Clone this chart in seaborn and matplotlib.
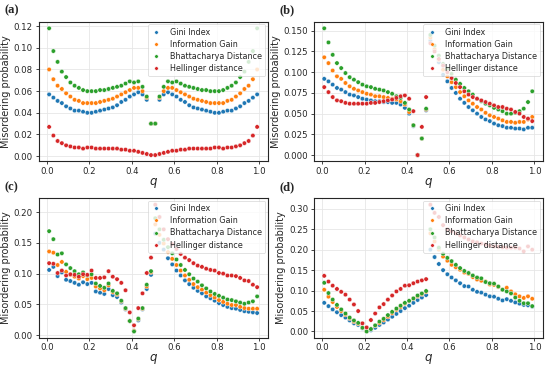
import numpy as np
import pandas as pd
import matplotlib
matplotlib.use("Agg")
import matplotlib.pyplot as plt
import seaborn as sns

# q grid: 0.01, 0.03, ..., 0.99
q = np.round(np.arange(0.01, 1.0, 0.02), 2)

methods = ["Gini Index", "Information Gain", "Bhattacharya Distance", "Hellinger distance"]
panel_labels = ["(a)", "(b)", "(c)", "(d)"]

# panel (a)
a_gini = [.057, .054, .051, .049, .046, .044, .042, .042, .041, .040, .040, .041, .042, .043, .044, .045, .047, .050, .052, .055,
          .057, .059, .057, .052, .030, .030, .052, .057, .059, .057, .055, .052, .050, .047, .045, .044, .043, .042, .041, .040,
          .040, .041, .042, .042, .044, .046, .049, .051, .054, .057]
a_ig = [.080, .071, .065, .062, .058, .055, .052, .051, .049, .049, .049, .049, .050, .051, .052, .053, .055, .057, .059, .061,
        .063, .063, .060, .054, .030, .030, .054, .060, .063, .063, .061, .059, .057, .055, .053, .052, .051, .050, .049, .049,
        .049, .049, .051, .052, .055, .058, .062, .065, .071, .080]
a_bd = [.118, .097, .087, .078, .073, .068, .065, .063, .061, .060, .060, .060, .061, .061, .062, .063, .064, .065, .067, .069,
        .068, .069, .064, .055, .030, .030, .055, .064, .069, .068, .069, .067, .065, .064, .063, .062, .061, .061, .060, .060,
        .060, .061, .063, .065, .068, .073, .078, .087, .097, .118]
a_hd = [.027, .019, .014, .012, .010, .009, .008, .008, .007, .008, .008, .007, .007, .007, .007, .007, .007, .006, .006, .005,
        .005, .004, .003, .002, .001, .001, .002, .003, .004, .005, .005, .006, .006, .007, .007, .007, .007, .007, .007, .008,
        .008, .007, .008, .008, .009, .010, .012, .014, .019, .027]

# panel (b)
b_gini = [.092, .089, .085, .081, .079, .076, .073, .072, .070, .068, .067, .066, .065, .065, .064, .064, .063, .063, .061, .057,
          .050, .035, .000, .020, .054, .138, .126, .112, .097, .089, .081, .075, .068, .063, .058, .054, .050, .046, .043, .041,
          .038, .036, .035, .033, .033, .032, .032, .031, .033, .033]
b_ig = [.118, .111, .102, .095, .092, .087, .083, .080, .078, .076, .074, .073, .071, .071, .070, .069, .068, .067, .065, .061,
        .052, .036, .000, .020, .055, .142, .128, .115, .103, .095, .088, .082, .076, .071, .066, .062, .058, .055, .051, .048,
        .046, .044, .042, .040, .040, .039, .040, .040, .043, .046]
b_bd = [.153, .136, .121, .111, .105, .099, .094, .091, .088, .085, .083, .082, .080, .079, .078, .076, .074, .071, .069, .063,
        .055, .036, .000, .020, .056, .145, .132, .120, .110, .104, .098, .091, .086, .081, .077, .073, .068, .065, .062, .060,
        .057, .055, .053, .050, .050, .051, .053, .056, .064, .077]
b_hd = [.082, .076, .070, .066, .065, .063, .062, .062, .062, .062, .062, .063, .063, .064, .065, .066, .067, .069, .071, .072,
        .068, .053, .000, .034, .070, .135, .125, .116, .108, .100, .093, .087, .082, .077, .073, .070, .068, .066, .064, .062,
        .060, .058, .058, .056, .055, .052, .050, .046, .044, .041]

# panel (c)
c_gini = [.106, .111, .096, .102, .090, .088, .085, .082, .086, .083, .085, .071, .069, .067, .075, .065, .062, .053, .042, .023,
          .007, .024, .042, .075, .098, .165, .150, .139, .125, .115, .105, .097, .089, .083, .077, .072, .068, .063, .060, .056,
          .052, .049, .046, .044, .043, .041, .039, .038, .037, .036]
c_ig = [.136, .134, .114, .119, .103, .098, .095, .092, .096, .091, .093, .079, .076, .073, .081, .070, .066, .055, .043, .023,
        .007, .026, .043, .079, .102, .180, .163, .149, .135, .124, .114, .105, .097, .090, .083, .078, .074, .069, .065, .061,
        .057, .054, .051, .049, .049, .046, .044, .043, .043, .043]
c_bd = [.169, .156, .131, .133, .115, .109, .104, .099, .102, .097, .099, .084, .080, .077, .084, .072, .068, .056, .044, .023,
        .006, .027, .044, .082, .104, .190, .172, .155, .143, .133, .123, .114, .106, .099, .092, .087, .081, .076, .071, .067,
        .064, .061, .058, .057, .055, .053, .051, .053, .055, .063]
c_hd = [.117, .116, .101, .105, .097, .099, .098, .095, .099, .098, .105, .093, .093, .094, .104, .095, .091, .085, .073, .037,
        .016, .044, .068, .101, .126, .212, .192, .172, .156, .148, .140, .132, .126, .122, .117, .113, .111, .108, .106, .105,
        .101, .100, .097, .097, .096, .093, .089, .088, .082, .078]

# panel (d)
d_gini = [.070, .062, .054, .047, .040, .034, .027, .020, .016, .008, .001, .003, .009, .016, .022, .029, .036, .043, .050, .057,
          .063, .070, .077, .083, .089, .200, .182, .165, .150, .140, .132, .125, .118, .111, .110, .102, .097, .095, .090, .086,
          .085, .080, .076, .079, .075, .071, .068, .065, .064, .061]
d_ig = [.102, .085, .072, .060, .050, .041, .032, .024, .019, .009, .001, .006, .014, .021, .028, .036, .045, .053, .060, .068,
        .074, .080, .086, .091, .097, .240, .220, .200, .183, .173, .163, .157, .151, .144, .141, .133, .127, .124, .122, .115,
        .114, .109, .102, .107, .098, .091, .086, .082, .086, .080]
d_bd = [.119, .094, .078, .065, .054, .044, .034, .027, .021, .009, .000, .006, .015, .024, .031, .040, .048, .056, .063, .070,
        .075, .081, .088, .093, .099, .250, .230, .205, .190, .180, .172, .163, .155, .148, .143, .137, .132, .130, .121, .118,
        .117, .110, .102, .098, .093, .083, .075, .069, .069, .062]
d_hd = [.136, .122, .112, .104, .097, .090, .078, .066, .050, .020, .010, .028, .044, .059, .067, .078, .088, .098, .104, .112,
        .113, .118, .122, .125, .128, .310, .290, .280, .260, .250, .245, .240, .235, .230, .225, .220, .218, .215, .213, .210,
        .208, .207, .206, .205, .205, .205, .203, .196, .208, .200]

panels = [
    [a_gini, a_ig, a_bd, a_hd],
    [b_gini, b_ig, b_bd, b_hd],
    [c_gini, c_ig, c_bd, c_hd],
    [d_gini, d_ig, d_bd, d_hd],
]

sns.set_theme(style="whitegrid", rc={
    "axes.edgecolor": "0.15",
    "axes.linewidth": 0.8,
    "grid.color": "0.9",
    "grid.linewidth": 0.6,
    "xtick.bottom": True,
    "ytick.left": True,
    "xtick.major.size": 2.5,
    "ytick.major.size": 2.5,
    "xtick.major.width": 0.6,
    "ytick.major.width": 0.6,
})
plt.rcParams["font.family"] = ["DejaVu Sans"]

fig, axes = plt.subplots(2, 2, figsize=(5.5, 3.66), dpi=100)
fig.subplots_adjust(left=0.07, right=0.987, top=0.94, bottom=0.077, wspace=0.2, hspace=0.265)

palette = sns.color_palette("tab10", 4)

for ax, series, label in zip(axes.flat, panels, panel_labels):
    df = pd.DataFrame({
        "q": np.tile(q, 4),
        "value": np.concatenate(series),
        "method": np.repeat(methods, len(q)),
    })
    sns.scatterplot(data=df, x="q", y="value", hue="method", palette=palette,
                    s=10, linewidth=0.3, edgecolor="white", ax=ax)
    ax.set_xlim(-0.04, 1.04)
    ax.set_xticks([0.0, 0.2, 0.4, 0.6, 0.8, 1.0])
    ax.tick_params(labelsize=6.2, pad=1.5)
    ax.set_xlabel("$q$", fontsize=8.5, labelpad=0)
    ax.set_ylabel("Misordering probability", fontsize=7, labelpad=2)
    leg = ax.legend(loc="upper right", fontsize=5.8, frameon=True, framealpha=0.8,
                    markerscale=0.8, handlelength=1.2, handletextpad=1.1, borderpad=0.4,
                    labelspacing=0.4, borderaxespad=0.3)
    leg.get_frame().set_linewidth(0.5)
    pos = ax.get_position()
    fig.text(0.008 if pos.x0 < 0.5 else 0.508, pos.y1 + 0.015, label,
             fontsize=9, fontweight="bold", family=["Liberation Serif"], va="bottom")

fig.savefig("out.png", dpi=100)
